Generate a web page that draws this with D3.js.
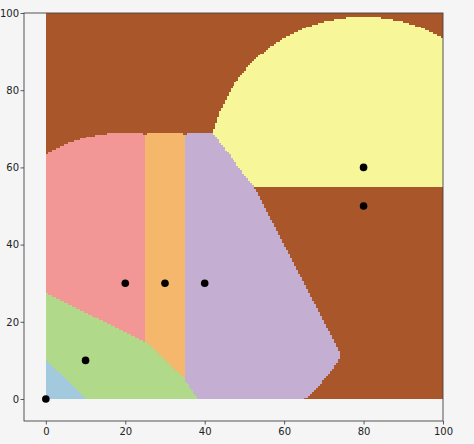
<!DOCTYPE html>
<html>
<head>
<meta charset="utf-8">
<script src="https://cdn.jsdelivr.net/npm/d3@7"></script>
<style>
  body { margin: 0; background: #f5f5f5; }
  svg { display: block; }
  .tick text { font-family: "DejaVu Sans", sans-serif; font-size: 10px; fill: #222; }
</style>
</head>
<body>
<svg id="chart" width="474" height="444"></svg>
<script>
// training points, one class each
const pointsX = [0, 10, 20, 30, 40, 80, 80];
const pointsY = [0, 10, 30, 30, 30, 60, 50];
const classColors = ["#a3c9df", "#b0d98a", "#f29696", "#f5b76c", "#c4aed2", "#f7f79a", "#a9562a"];
const outlierClass = 6;   // points farther than the radius get this label
const radius = 39;
const gridStep = 0.5;
const xTicks = [0, 20, 40, 60, 80, 100];
const yTicks = [0, 20, 40, 60, 80, 100];

const svg = d3.select("#chart");
const x = d3.scaleLinear().domain([-5.5, 100]).range([24, 443]);
const y = d3.scaleLinear().domain([-5.7, 100]).range([421, 13]);

// axes background
svg.append("rect")
  .attr("x", x(-5.5)).attr("y", y(100))
  .attr("width", x(100) - x(-5.5)).attr("height", y(-5.7) - y(100))
  .attr("fill", "#f5f5f5");

// nearest neighbour with a distance cut-off, evaluated on a grid
function classify(px, py) {
  let best = -1, bestD = Infinity;
  pointsX.forEach(function(vx, i) {
    const d = Math.hypot(px - vx, py - pointsY[i]);
    if (d < bestD) { bestD = d; best = i; }
  });
  return bestD > radius ? outlierClass : best;
}

const n = Math.round(100 / gridStep);
const cells = svg.append("g").attr("class", "cells").attr("shape-rendering", "crispEdges");
// brown underlay so no seams show between rows
cells.append("rect")
  .attr("x", x(0)).attr("y", y(100))
  .attr("width", x(100) - x(0)).attr("height", y(0) - y(100))
  .attr("fill", classColors[outlierClass]);
for (let r = 0; r < n; r++) {
  const y0 = r * gridStep, cy = y0 + gridStep / 2;
  let start = 0, cur = classify(gridStep / 2, cy);
  for (let c = 1; c <= n; c++) {
    const k = c < n ? classify(c * gridStep + gridStep / 2, cy) : -1;
    if (k !== cur) {
      if (cur !== outlierClass) {
        cells.append("rect")
          .attr("x", x(start * gridStep))
          .attr("y", y(y0 + gridStep))
          .attr("width", x(c * gridStep) - x(start * gridStep))
          .attr("height", y(y0) - y(y0 + gridStep) + 0.5)
          .attr("fill", classColors[cur]);
      }
      start = c; cur = k;
    }
  }
}

// points
svg.append("g").selectAll("circle")
  .data(pointsX)
  .join("circle")
  .attr("cx", function(d) { return x(d); })
  .attr("cy", function(d, i) { return y(pointsY[i]); })
  .attr("r", 3.8)
  .attr("fill", "#000");

// axes
const xAxis = svg.append("g").attr("transform", "translate(0," + y(-5.7) + ")")
  .call(d3.axisBottom(x).tickValues(xTicks).tickSize(3.5).tickPadding(3));
const yAxis = svg.append("g").attr("transform", "translate(" + x(-5.5) + ",0)")
  .call(d3.axisLeft(y).tickValues(yTicks).tickSize(3.5).tickPadding(1.5));
[xAxis, yAxis].forEach(function(a) {
  a.select(".domain").remove();
  a.selectAll(".tick line").attr("stroke", "#333").attr("stroke-width", 0.8);
});

// frame
svg.append("rect")
  .attr("x", x(-5.5)).attr("y", y(100))
  .attr("width", x(100) - x(-5.5)).attr("height", y(-5.7) - y(100))
  .attr("fill", "none").attr("stroke", "#444").attr("stroke-width", 0.9);
</script>
</body>
</html>
